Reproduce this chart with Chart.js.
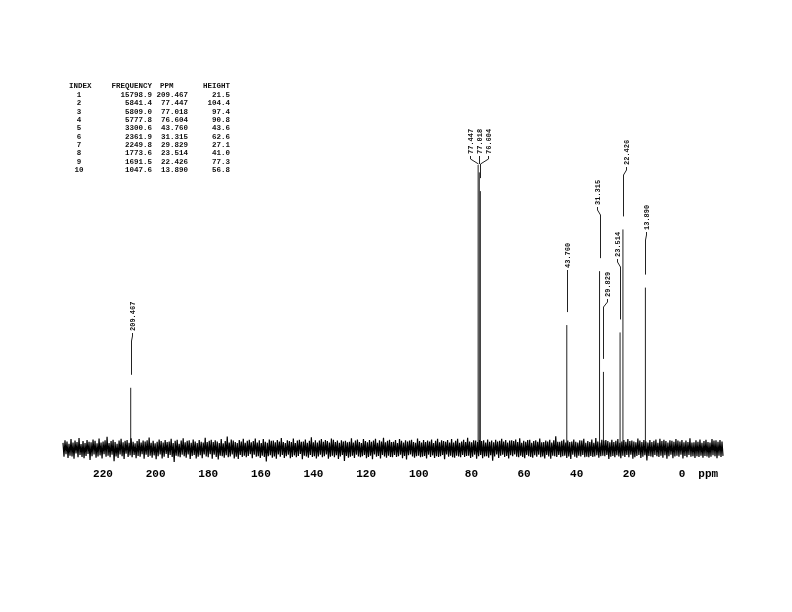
<!DOCTYPE html>
<html>
<head>
<meta charset="utf-8">
<script src="https://cdn.jsdelivr.net/npm/chart.js@4"></script>
<style>
    html, body { margin: 0; padding: 0; background: #fff; }
    #wrap { width: 792px; height: 612px; }
</style>
</head>
<body>
<div id="wrap"><canvas id="spectrum" width="792" height="612"></canvas></div>
<script>

// peak table (as printed on the plot)
var peakIndex = [1, 2, 3, 4, 5, 6, 7, 8, 9, 10];
var peakFreq = [15798.9, 5841.4, 5809.0, 5777.8, 3300.6, 2361.9, 2249.8, 1773.6, 1691.5, 1047.6];
var peakPpm = [209.467, 77.447, 77.018, 76.604, 43.760, 31.315, 29.829, 23.514, 22.426, 13.890];
var peakHeight = [21.5, 104.4, 97.4, 90.8, 43.6, 62.6, 27.1, 41.0, 77.3, 56.8];

// where each peak label sits (ppm, intensity of the label foot)
var labelPpm = [209.0, 80.56, 77.14, 73.73, 43.71, 32.31, 28.51, 24.71, 21.29, 13.7];
var labelBase = [41.5, 103.9, 103.9, 103.9, 63.7, 85.9, 53.5, 67.6, 100.0, 77.1];

var axisTicks = [220, 200, 180, 160, 140, 120, 100, 80, 60, 40, 20, 0];
var axisUnit = 'ppm';
var ppmStart = 235.2;
var ppmEnd = -15.6;

// baseline noise
var noise = [
    2.1, -2.8, 3.0, -1.9, 2.6, -3.2, 1.8, -2.4, 3.4, -2.7, 2.2, -3.5, 2.9, -1.6, 2.4,
    -3.0, 3.8, -2.2, 1.7, -2.9, 2.7, -3.3, 2.0, -2.5, 3.1, -1.8, 2.5, -3.9, 2.3, -2.6,
    3.3, -2.0, 2.8, -3.1, 1.9, -2.7, 3.6, -2.3, 2.2, -3.4, 2.6, -1.9, 3.0, -2.8, 4.2,
    -2.4, 2.0, -3.0, 2.7, -2.1, 3.2, -4.4, 2.4, -2.7, 1.8, -3.2, 2.9, -2.0, 3.5, -2.6,
    2.3, -3.6, 2.8, -1.7, 3.1, -2.9, 2.1, -2.3, 3.7, -3.0, 2.5, -2.2, 1.9, -3.3, 2.7,
    -2.5, 3.4, -2.8, 2.2, -1.9, 2.9, -3.5, 2.6, -2.1, 3.0, -2.9, 4.0, -2.4, 2.1, -3.1,
    2.8, -2.3, 1.9, -3.7, 2.5, -2.6, 3.3, -2.0, 2.7, -3.4, 2.2, -2.8, 3.1, -1.8, 2.4,
    -3.2, 2.6, -2.2, 3.5, -2.9, 2.0, -4.6, 2.8, -2.4, 3.2, -2.7, 1.8, -3.0, 2.9, -2.1,
    3.7, -2.6, 2.3, -3.1, 2.8, -2.0, 3.0, -3.6, 2.1, -2.5, 3.3, -2.2, 2.6, -3.4, 2.0,
    -2.8, 3.1, -2.3, 2.5, -3.3, 2.2, -2.0, 3.9, -2.7, 2.4, -3.0, 2.8, -1.9, 3.2, -3.5,
    2.4, -2.1, 3.0, -2.9, 2.6, -3.8, 2.0, -2.4, 3.4, -2.6, 1.9, -3.1, 2.7, -2.3, 4.3,
    -3.0, 2.2, -2.7, 3.3, -2.0, 2.9, -3.4, 2.4, -2.8, 2.0, -3.6, 3.1, -2.2, 2.6, -2.9,
    3.5, -2.4, 2.1, -3.0, 2.8, -2.5, 3.2, -1.9, 2.3, -3.3, 2.7, -2.1, 3.6, -2.8, 2.2,
    -2.6, 3.0, -3.2, 2.0, -2.4, 3.4, -2.9, 2.5, -4.5, 2.1, -2.6, 3.3, -2.3, 2.8, -3.1,
    2.9, -2.7, 2.3, -3.5, 3.1, -2.0, 2.6, -2.8, 3.8, -2.2, 2.4, -3.2, 2.0, -2.6, 3.0,
    -2.1, 2.7, -3.3, 2.4, -2.9, 3.6, -2.3, 2.0, -3.0, 2.9, -2.5, 3.2, -1.8, 2.5, -3.7,
    2.6, -2.4, 3.3, -2.7, 2.1, -3.1, 2.8, -2.2, 4.1, -2.9, 2.3, -2.6, 3.0, -3.4, 2.2,
    -2.7, 2.9, -2.1, 3.4, -3.0, 2.5, -2.6, 3.1, -2.0, 2.7, -3.5, 2.2, -2.8, 3.6, -2.4,
    3.2, -3.0, 2.4, -2.3, 2.9, -3.6, 2.1, -2.7, 3.0, -2.2, 2.6, -4.3, 2.8, -2.5, 2.3,
    -3.1, 2.5, -2.8, 3.7, -2.4, 2.2, -3.2, 2.9, -2.1, 3.3, -2.7, 2.4, -3.0, 2.0, -2.6,
    3.4, -2.2, 2.7, -3.3, 2.3, -2.9, 3.1, -2.4, 2.5, -3.7, 2.9, -2.0, 3.5, -2.8, 2.1,
    -2.5, 3.0, -3.4, 2.6, -2.2, 3.9, -2.7, 2.3, -3.1, 2.8, -2.4, 3.2, -2.9, 2.4, -3.0,
    2.5, -2.2, 3.1, -2.9, 2.0, -2.6, 3.4, -2.1, 2.8, -3.3, 2.2, -2.5, 3.0, -3.8, 2.6,
    -2.3, 2.9, -2.0, 3.2, -2.7, 2.4, -3.1, 2.1, -2.6, 3.6, -2.4, 2.7, -3.0, 2.2, -2.8,
    3.1, -2.5, 2.4, -3.4, 2.9, -2.1, 2.6, -2.9, 3.3, -2.3, 2.0, -3.2, 2.8, -2.6, 3.5,
    -2.9, 2.3, -2.6, 3.0, -2.2, 2.7, -3.7, 2.5, -2.0, 3.1, -2.8, 2.2, -2.4, 3.4, -3.0,
    2.2, -3.1, 2.8, -2.4, 3.5, -2.7, 2.1, -3.0, 2.6, -2.2, 3.2, -2.9, 2.4, -2.5, 3.9,
    -2.4, 2.6, -3.2, 2.3, -2.8, 3.0, -2.1, 2.9, -3.5, 2.4, -2.6, 3.1, -2.2, 2.7, -3.3,
    3.0, -2.7, 2.2, -2.6, 3.3, -3.1, 2.5, -2.3, 2.9, -4.2, 2.3, -2.7, 3.2, -2.0, 2.6,
    -3.2, 2.8, -2.4, 3.5, -2.1, 2.6, -2.9, 3.1, -2.5, 2.2, -3.4, 2.9, -2.3, 3.0, -2.6,
    2.7, -2.0, 3.3, -2.8, 2.4, -3.0, 3.7, -2.4, 2.1, -2.9, 2.8, -3.3, 2.5, -2.2, 3.1,
    -2.6, 3.2, -2.9, 2.1, -3.1, 2.7, -2.3, 3.0, -2.8, 2.5, -2.1, 3.6, -3.0, 2.3, -2.7,
    2.4, -3.4, 2.9, -2.2, 2.6, -2.7, 3.2, -3.5, 2.2, -2.4, 3.0, -2.6, 4.4, -2.9, 2.5,
    -2.2, 2.5, -3.0, 2.8, -2.6, 3.3, -2.4, 2.2, -3.2, 2.9, -2.7, 2.4, -3.6, 2.6, -2.1,
    3.3, -2.8, 2.5, -3.1, 2.2, -2.4, 3.0, -2.7, 2.9, -2.2, 3.5, -3.0, 2.1, -2.8, 2.7,
    -3.0, 2.4, -2.5, 3.3, -2.9, 2.1, -2.7, 3.8, -2.3, 2.6, -3.1, 2.2, -2.6, 3.2, -2.4,
    2.9, -2.6, 3.1, -2.2, 2.7, -3.6, 2.3, -2.8, 3.2, -2.5, 2.4, -3.0, 2.8, -2.3, 3.4,
    -2.7, 2.1, -3.3, 2.6, -2.4, 3.1, -2.9, 2.5, -2.2, 3.4, -3.0, 2.7, -2.1, 2.9, -3.5,
    2.6, -3.0, 2.3, -2.5, 3.6, -2.2, 2.9, -3.2, 2.4, -2.8, 3.1, -2.3, 2.6, -4.1, 2.2,
    -2.5, 3.1, -2.7, 2.4, -3.0, 2.8, -2.2, 3.3, -2.6, 2.1, -2.9, 3.5, -2.4, 2.7, -3.1,
    3.2, -2.3, 2.7, -3.5, 2.2, -2.6, 3.0, -2.1, 2.8, -3.3, 2.5, -2.7, 3.4, -2.4, 2.9,
    -2.8, 2.6, -2.1, 3.1, -3.4, 2.3, -2.5, 2.9, -3.0, 2.4, -2.2, 3.7, -2.8, 2.2, -2.6,
    2.3, -3.2, 3.0, -2.6, 2.5, -2.9, 3.3, -2.4, 2.1, -3.1, 2.7, -2.5, 3.2, -2.7, 2.4,
    -3.1, 2.2, -2.8, 3.4, -2.3, 2.9, -2.6, 3.0, -3.3, 2.5, -2.4, 3.1, -2.9, 2.6, -2.5
];

var Spectrum = function () {

    var chart;
    var monoFont = '"Liberation Mono", "DejaVu Sans Mono", monospace';

    var noisePoints = function () {
        var step = (ppmStart - ppmEnd) / (noise.length - 1);
        var pts = [];
        for (var i = 0; i < noise.length; i++) {
            pts.push({ x: ppmStart - i * step, y: noise[i] });
        }
        return pts;
    };

    var peakPoints = function () {
        var pts = [];
        for (var i = 0; i < peakPpm.length; i++) {
            pts.push({ x: peakPpm[i], y: 0 });
            pts.push({ x: peakPpm[i], y: peakHeight[i] });
            pts.push({ x: peakPpm[i], y: null });
        }
        return pts;
    };

    // peak labels with their leader lines
    var labelsPlugin = {
        id: 'peakLabels',
        afterDatasetsDraw: function (c) {
            var ctx = c.ctx;
            var xs = c.scales.x;
            var ys = c.scales.y;

            ctx.save();
            ctx.strokeStyle = '#222';
            ctx.lineWidth = 1;
            ctx.fillStyle = '#111';
            ctx.font = 'bold 7px ' + monoFont;

            for (var i = 0; i < peakPpm.length; i++) {
                var px = Math.round(xs.getPixelForValue(peakPpm[i])) + 0.5;
                var lx = Math.round(xs.getPixelForValue(labelPpm[i])) + 0.5;
                var ly = Math.round(ys.getPixelForValue(labelBase[i]));
                var top = ys.getPixelForValue(Math.min(peakHeight[i], ys.max));
                var end = Math.max(top - 13, ly + 10);

                ctx.beginPath();
                ctx.moveTo(lx, ly + 2);
                ctx.lineTo(lx, ly + 5);
                ctx.lineTo(px, ly + 10);
                ctx.lineTo(px, end);
                ctx.stroke();

                ctx.save();
                ctx.translate(lx + 0.5, ly);
                ctx.rotate(-Math.PI / 2);
                ctx.textAlign = 'left';
                ctx.textBaseline = 'middle';
                ctx.fillText(peakPpm[i].toFixed(3), 0, 0);
                ctx.restore();
            }
            ctx.restore();
        }
    };

    // the printed peak table in the top left corner
    var tablePlugin = {
        id: 'peakTable',
        afterDraw: function (c) {
            var ctx = c.ctx;
            ctx.save();
            ctx.fillStyle = '#111';
            ctx.font = 'bold 7.5px ' + monoFont;
            ctx.textBaseline = 'middle';

            ctx.textAlign = 'left';
            ctx.fillText('INDEX', 69, 86);
            ctx.fillText('PPM', 160, 86);
            ctx.textAlign = 'right';
            ctx.fillText('FREQUENCY', 152, 86);
            ctx.fillText('HEIGHT', 230, 86);

            for (var i = 0; i < peakIndex.length; i++) {
                var y = 95 + i * 8.35;
                ctx.textAlign = 'center';
                ctx.fillText(String(peakIndex[i]), 79, y);
                ctx.textAlign = 'right';
                ctx.fillText(peakFreq[i].toFixed(1), 152, y);
                ctx.fillText(peakPpm[i].toFixed(3), 188, y);
                ctx.fillText(peakHeight[i].toFixed(1), 230, y);
            }
            ctx.restore();
        }
    };

    var init = function () {
        var ctx = document.getElementById('spectrum');

        chart = new Chart(ctx, {
            type: 'line',
            data: {
                datasets: [
                    {
                        label: 'noise',
                        data: noisePoints(),
                        borderColor: '#000',
                        borderWidth: 1.2,
                        pointRadius: 0,
                        tension: 0,
                        clip: false
                    },
                    {
                        label: 'peaks',
                        data: peakPoints(),
                        borderColor: '#222',
                        borderWidth: 1,
                        pointRadius: 0,
                        spanGaps: false
                    }
                ]
            },
            options: {
                responsive: false,
                animation: false,
                events: [],
                layout: {
                    padding: { left: 63, right: 69, top: 165, bottom: 125 }
                },
                plugins: {
                    legend: { display: false },
                    tooltip: { enabled: false }
                },
                scales: {
                    x: {
                        type: 'linear',
                        reverse: true,
                        min: ppmEnd,
                        max: ppmStart,
                        grid: { display: false, drawTicks: false },
                        border: { display: false },
                        afterBuildTicks: function (axis) {
                            axis.ticks = axisTicks.concat([-10]).map(function (v) {
                                return { value: v };
                            });
                        },
                        ticks: {
                            color: '#000',
                            padding: 6,
                            autoSkip: false,
                            maxRotation: 0,
                            font: { family: monoFont, weight: 'bold', size: 11 },
                            callback: function (v) {
                                return v === -10 ? axisUnit : String(v);
                            }
                        }
                    },
                    y: {
                        display: false,
                        min: -4.58,
                        max: 100
                    }
                }
            },
            plugins: [labelsPlugin, tablePlugin]
        });
    };

    return {
        init: function () {
            init();
        }
    };

}();

Spectrum.init();
</script>
</body>
</html>
